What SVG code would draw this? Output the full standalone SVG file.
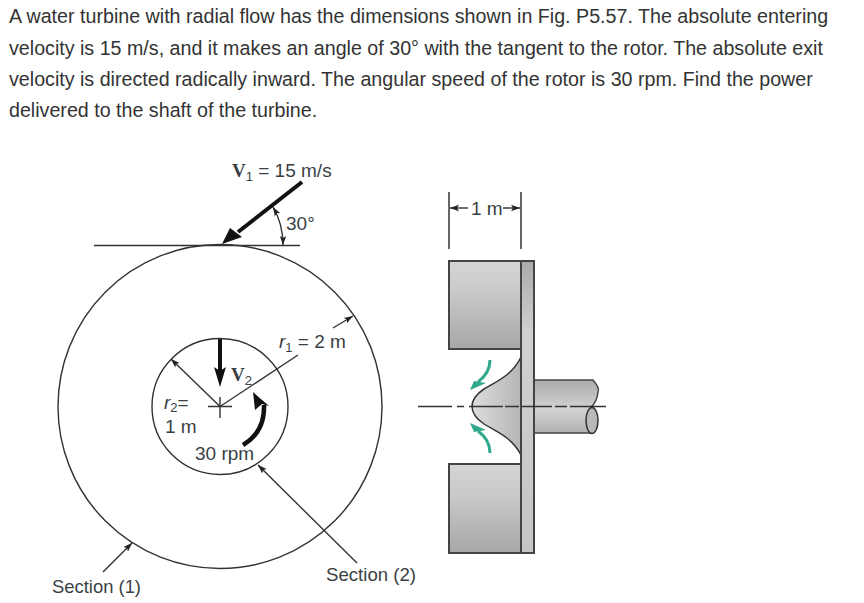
<svg xmlns="http://www.w3.org/2000/svg" width="864" height="603" viewBox="0 0 864 603">
<style>
text{font-family:"Liberation Sans",Arial,sans-serif}
.p{font-size:19.66px;fill:#333}
.l{font-size:19px;fill:#3a3f44}
.b{font-family:"Liberation Serif",serif;font-weight:bold}
.i{font-style:italic}
.t{fill:none;stroke:#333;stroke-width:1.4}
.d{fill:none;stroke:#666;stroke-width:2}
.k{fill:none;stroke:#111;stroke-width:4}
.o{stroke:#444;stroke-width:2}
.g{stroke:#2fa88b;stroke-width:3;fill:none}
</style>
<defs>
<linearGradient id="box" x1="0" y1="0" x2="0" y2="1"><stop offset="0" stop-color="#d4d5d6"/><stop offset="0.35" stop-color="#c8c9ca"/><stop offset="1" stop-color="#a6a7a9"/></linearGradient>
<linearGradient id="shaft" x1="0" y1="0" x2="0" y2="1"><stop offset="0" stop-color="#a9aaac"/><stop offset="0.55" stop-color="#d2d3d4"/><stop offset="1" stop-color="#b0b1b3"/></linearGradient>
<linearGradient id="bell" x1="0" y1="0" x2="1" y2="0"><stop offset="0" stop-color="#dcdddd"/><stop offset="1" stop-color="#b4b5b7"/></linearGradient>
<linearGradient id="plate" x1="0" y1="0" x2="0" y2="1"><stop offset="0" stop-color="#a9aaac"/><stop offset="0.25" stop-color="#cfd0d1"/><stop offset="1" stop-color="#c4c5c6"/></linearGradient>
<marker id="a" markerWidth="10" markerHeight="8" refX="9" refY="4" orient="auto-start-reverse" markerUnits="userSpaceOnUse"><path d="M0 0.8L9 4L0 7.2L2 4Z" fill="#222"/></marker>
</defs>
<g id="problem-text">
<text class="p" x="9" y="23">A water turbine with radial flow has the dimensions shown in Fig. P5.57. The absolute entering</text>
<text class="p" x="9" y="55">velocity is 15 m/s, and it makes an angle of 30° with the tangent to the rotor. The absolute exit</text>
<text class="p" x="9" y="86">velocity is directed radically inward. The angular speed of the rotor is 30 rpm. Find the power</text>
<text class="p" x="9" y="117">delivered to the shaft of the turbine.</text>
</g>
<g id="rotor">
<circle class="t" cx="220" cy="406.5" r="162"/>
<circle class="t" cx="220" cy="406.5" r="68"/>
<path class="t" d="M94 245.5H300"/>
<path class="t" d="M208 406.5H232M220 397V418"/>
</g>
<g id="connectors">
<path d="M302 182L238 232" class="k"/>
<path d="M222 244L230 228L242 237Z" fill="#111"/>
<path class="t" d="M273 207Q283 224 283 245" marker-start="url(#a)" marker-end="url(#a)"/>
<path d="M220 339V372" class="k"/>
<path d="M220 387L214 367L220 371L226 367Z" fill="#111"/>
<path class="t" d="M220 406.500L298 355"/>
<path class="t" d="M333 328L353 316" marker-end="url(#a)"/>
<path class="t" d="M220 406.500L171 359" marker-end="url(#a)"/>
<path d="M243 445Q265 432 264 405" fill="none" stroke="#111" stroke-width="4.500"/>
<path d="M253 392L269 406L262 404L255 410Z" fill="#111"/>
<path class="t" d="M357 563L258 465" marker-end="url(#a)"/>
<path class="t" d="M103 572L132 543" marker-end="url(#a)"/>
<path class="d" d="M449 192V249M521 192V249"/>
<path class="t" d="M468 208H450" marker-end="url(#a)"/>
<path class="t" d="M503 208H520" marker-end="url(#a)"/>
</g>
<g id="turbine-side">
<rect class="o" x="449" y="261" width="72" height="88" fill="url(#box)"/>
<rect class="o" x="449" y="464" width="72" height="89" fill="url(#box)"/>
<path d="M534 380H593Q600 388 598 392Q597 402 591 407Q586 420 592 433H534Z" fill="url(#shaft)" stroke="#444" stroke-width="1.500"/>
<ellipse cx="592" cy="420.500" rx="6" ry="13" fill="#b8b9bb" stroke="#333" stroke-width="1.500"/>
<path d="M521 357C512 376 495 382 484 389C475 395 472 402 472 406.500C472 411 475 418 484 424C495 431 512 437 521 455Z" fill="url(#bell)" stroke="#333" stroke-width="1.500"/>
<rect class="o" x="521" y="261" width="13" height="292" fill="url(#plate)"/>
<path d="M418 406.500H606" stroke="#333" stroke-width="1.300" stroke-dasharray="34 5 7 5 34 2 14 3 30 3 12 3 40"/>
<path class="g" d="M490 360Q490 373 478 382"/>
<path d="M470 390L474 381L486 383Z" fill="#2fa88b"/>
<path class="g" d="M490 453Q490 440 478 431"/>
<path d="M470 423L474 432L486 430Z" fill="#2fa88b"/>
</g>
<g id="labels">
<text class="l" x="232" y="177"><tspan class="b">V</tspan><tspan font-size="13" dy="4">1</tspan><tspan dy="-4"> = 15 m/s</tspan></text>
<text class="l" x="286" y="230">30°</text>
<text class="l" x="279" y="348"><tspan class="i">r</tspan><tspan font-size="13" dy="4">1</tspan><tspan dy="-4"> = 2 m</tspan></text>
<text class="l" x="231" y="381"><tspan class="b">V</tspan><tspan font-size="13" dy="4">2</tspan></text>
<text class="l" x="164" y="409"><tspan class="i">r</tspan><tspan font-size="13" dy="3">2</tspan><tspan dy="-3">=</tspan></text>
<text class="l" x="165" y="433">1 m</text>
<text class="l" x="195" y="460">30 rpm</text>
<text class="l" x="471" y="215">1 m</text>
<text class="l" x="52" y="593" textLength="89" lengthAdjust="spacingAndGlyphs">Section (1)</text>
<text class="l" x="326" y="581" textLength="90" lengthAdjust="spacingAndGlyphs">Section (2)</text>
</g>
</svg>
